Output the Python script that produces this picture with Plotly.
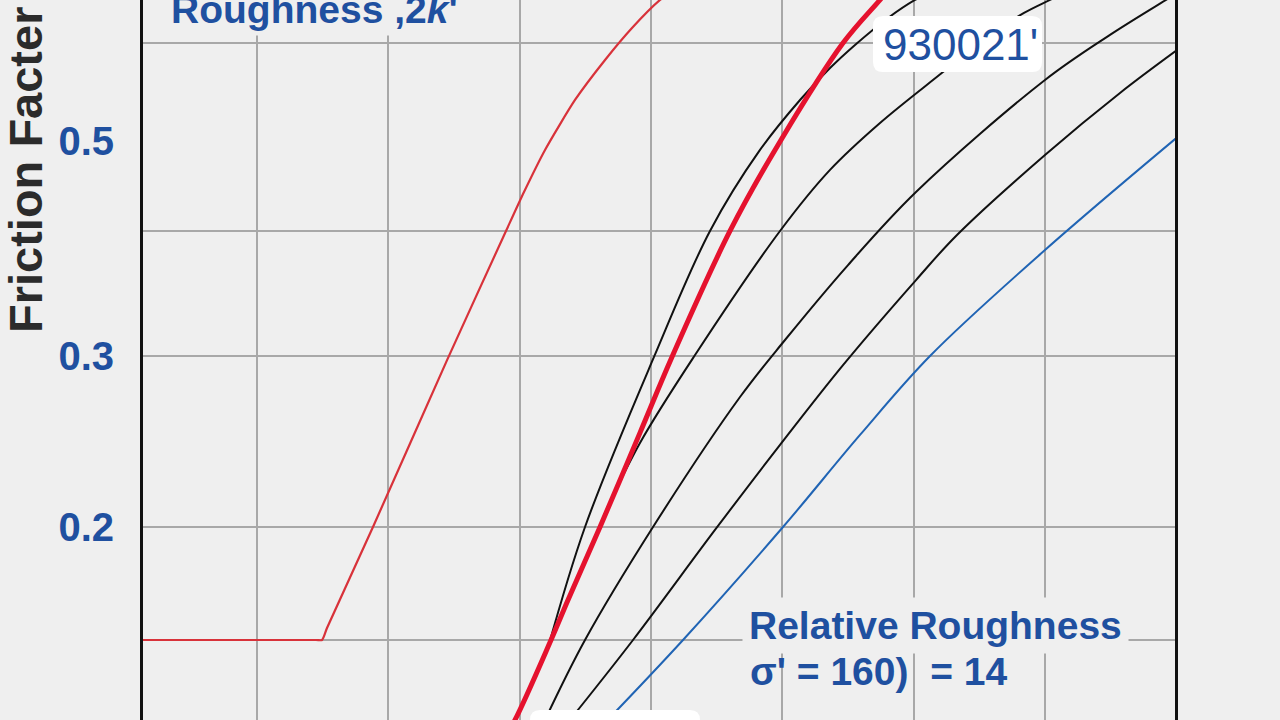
import plotly.graph_objects as go

# ---------------- data (Reynolds number, friction factor) ----------------
laminar_re = [130, 2810, 3130, 3412, 7640, 28000, 78700, 107900, 156000, 263900, 446700, 716700, 1.172e6, 1.663e6]
laminar_f = [0.153, 0.153, 0.153, 0.1574, 0.200, 0.2971, 0.4035, 0.4426, 0.489, 0.5505, 0.6053, 0.653, 0.6979, 0.7213]

smooth_re = [77260, 92180, 173300, 233400, 409100, 824100, 1.445e6, 3.997e6, 9.772e6, 2.898e7, 5.543e7, 6.607e7]
smooth_f = [0.1216, 0.1266, 0.153, 0.1682, 0.200, 0.250, 0.2993, 0.4035, 0.5007, 0.630, 0.6979, 0.7179]

curve1_re = [164400, 314500, 1.054e6, 2.814e6, 6.762e6, 1.364e7, 2.308e7, 3.577e7, 6.379e7, 1.024e8, 1.587e8]
curve1_f = [0.1502, 0.200, 0.2993, 0.4035, 0.489, 0.5505, 0.5938, 0.6272, 0.6687, 0.6979, 0.7179]

curve2_re = [438800, 824100, 2.164e6, 9.603e6, 2.308e7, 5.543e7, 1.673e8, 3.223e8, 6.923e8, 1.092e9, 1.551e9]
curve2_f = [0.2057, 0.2441, 0.3007, 0.4035, 0.4664, 0.5213, 0.5882, 0.6317, 0.6766, 0.6979, 0.7145]

curve3_re = [156000, 314500, 1.036e6, 4.762e6, 1.048e7, 3.164e7, 1.042e8, 1.0e9, 3.127e9, 8.346e9, 1.164e10]
curve3_f = [0.1266, 0.153, 0.200, 0.2722, 0.3116, 0.3722, 0.4426, 0.5772, 0.6423, 0.6979, 0.7179]

curve4_re = [241700, 729600, 3.071e6, 9.603e6, 2.898e7, 1.042e8, 2.138e8, 1.0e9, 3.726e9, 1.067e10]
curve4_f = [0.1266, 0.153, 0.1986, 0.243, 0.2936, 0.3592, 0.3997, 0.4832, 0.5597, 0.6228]

rough_re = [409100, 1.753e6, 1.012e7, 3.904e7, 1.332e8, 1.0e9, 1.067e10]
rough_f = [0.1242, 0.153, 0.200, 0.2488, 0.300, 0.3857, 0.5067]

y_tick_vals = [0.2, 0.3, 0.5]
y_tick_text = ["0.2", "0.3", "0.5"]
y_grid_vals = [0.153, 0.2, 0.3, 0.4035, 0.63]
x_grid_vals = [1e3, 1e4, 1e5, 1e6, 1e7, 1e8, 1e9]

title_text = "Friction Facter"
top_label = "Roughness ,2<i>k</i>'"
box_label = "930021'"
note_line1 = "Relative Roughness"
note_line2 = "σ'\u00a0= 160)\u00a0\u00a0= 14"

# ---------------- styling ----------------
BG = "#efefef"
BLUE = "#1f50a0"
FONT = "Liberation Sans, Arial, sans-serif"

fig = go.Figure()

fig.add_trace(go.Scatter(x=laminar_re, y=laminar_f, mode="lines",
                         line=dict(color="#d8323a", width=2.2, shape="spline", smoothing=0.6),
                         hoverinfo="skip"))
for xs, ys in [(curve1_re, curve1_f), (curve2_re, curve2_f),
               (curve3_re, curve3_f), (curve4_re, curve4_f)]:
    fig.add_trace(go.Scatter(x=xs, y=ys, mode="lines",
                             line=dict(color="#111111", width=2, shape="spline", smoothing=1.0),
                             hoverinfo="skip"))
fig.add_trace(go.Scatter(x=rough_re, y=rough_f, mode="lines",
                         line=dict(color="#2064b4", width=2, shape="spline", smoothing=1.0),
                         hoverinfo="skip"))
fig.add_trace(go.Scatter(x=smooth_re, y=smooth_f, mode="lines",
                         line=dict(color="#e5122e", width=5, shape="spline", smoothing=1.0),
                         hoverinfo="skip"))

L, R, W, H = 143, 1175, 1280, 720
PW = R - L


def px(xp):
    return (xp - L) / PW


def py(yp):
    return (H - yp) / H


def rounded_box(x0, y0, x1, y1, r=10):
    a, b = px(x0), px(x1)
    top, bot = py(y0), py(y1)
    rx, ry = r / PW, r / H
    return (f"M {a+rx},{top} L {b-rx},{top} Q {b},{top} {b},{top-ry} "
            f"L {b},{bot+ry} Q {b},{bot} {b-rx},{bot} L {a+rx},{bot} "
            f"Q {a},{bot} {a},{bot+ry} L {a},{top-ry} Q {a},{top} {a+rx},{top} Z")


fig.update_layout(
    width=W, height=H,
    margin=dict(l=L, r=W - R, t=0, b=0, pad=0),
    paper_bgcolor=BG, plot_bgcolor=BG,
    showlegend=False,
    font=dict(family=FONT),
    xaxis=dict(type="log", range=[2.132, 9.990], tickmode="array", tickvals=x_grid_vals,
               showticklabels=False, ticks="", showgrid=True, gridcolor="#a8a8a8",
               gridwidth=2, showline=False, zeroline=False),
    yaxis=dict(type="log", range=[-0.8977, -0.1563], tickmode="array",
               tickvals=y_tick_vals, ticktext=y_tick_text, showgrid=False,
               ticks="outside", ticklen=18, tickcolor="rgba(0,0,0,0)",
               tickfont=dict(size=40, color=BLUE, family=FONT, weight="bold"),
               showline=True, linecolor="#111111", linewidth=3, mirror=True,
               zeroline=False,
               minor=dict(tickmode="array", tickvals=y_grid_vals, showgrid=True,
                          gridcolor="#a8a8a8", gridwidth=2, ticks="")),
    shapes=[
        dict(type="path", xref="paper", yref="paper", path=rounded_box(873, 16, 1042, 72),
             fillcolor="white", line=dict(width=0), layer="above"),
        dict(type="path", xref="paper", yref="paper", path=rounded_box(530, 710, 700, 745),
             fillcolor="white", line=dict(width=0), layer="above"),
    ],
    annotations=[
        dict(text=title_text, xref="paper", yref="paper", x=px(25), y=py(170),
             xanchor="center", yanchor="middle", textangle=-90, showarrow=False,
             font=dict(size=47, color="#2b2b2b", family=FONT, weight="bold")),
        dict(text=top_label, xref="paper", yref="paper", x=px(166), y=py(36),
             xanchor="left", yanchor="bottom", showarrow=False, bgcolor=BG, borderpad=4,
             font=dict(size=39, color=BLUE, family=FONT, weight="bold")),
        dict(text=box_label, xref="paper", yref="paper", x=px(960), y=py(44),
             xanchor="center", yanchor="middle", showarrow=False,
             font=dict(size=44, color=BLUE, family=FONT)),
        dict(text=note_line1, xref="paper", yref="paper", x=px(742), y=py(597),
             xanchor="left", yanchor="top", showarrow=False, bgcolor=BG, borderpad=6,
             font=dict(size=39, color=BLUE, family=FONT, weight="bold")),
        dict(text=note_line2, xref="paper", yref="paper", x=px(748), y=py(648),
             xanchor="left", yanchor="top", showarrow=False,
             font=dict(size=39, color=BLUE, family=FONT, weight="bold")),
    ],
)

fig.write_html("out.html", config={"displayModeBar": False},
               post_script="document.body.style.margin='0';document.body.style.overflow='hidden';")
